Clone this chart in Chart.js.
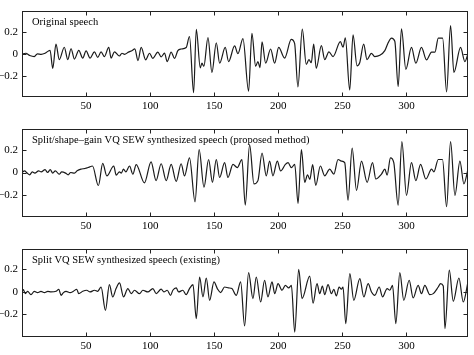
<!DOCTYPE html>
<html><head><meta charset="utf-8">
<script src="https://cdn.jsdelivr.net/npm/chart.js@4"></script>
<style>
html,body{margin:0;padding:0;background:#fff;}
#wrap{position:relative;width:474px;height:355px;overflow:hidden;}
canvas{position:absolute;left:0;}
</style></head><body>
<div id="wrap">
<canvas id="c1" width="474" height="118" style="top:0px;width:474px;height:118px"></canvas>
<canvas id="c2" width="474" height="120" style="top:118px;width:474px;height:120px"></canvas>
<canvas id="c3" width="474" height="117" style="top:238px;width:474px;height:117px"></canvas>
</div>
<script>
const xTicks = [50, 100, 150, 200, 250, 300];
const yTicks = [-0.2, 0, 0.2];
const panelTitles = [
  'Original speech',
  'Split/shape\u2013gain VQ SEW synthesized speech (proposed method)',
  'Split VQ SEW synthesized speech (existing)'
];

// Original speech (sample index, amplitude) at turning points
const origN = [0,3,6,9.6,12,15,18,21.9,24,26.5,29.1,33,35.7,38.3,40.9,44.3,47.4,50,53.1,56.5,
59.1,61.7,64.3,67.7,69.5,72.1,76,78,80,83,86,88,90.5,93,96.5,99.5,102,106,108.6,111.2,
113.3,116.4,119,121.6,124.2,128.1,130.7,133.9,136,139.1,140.4,141.9,145.1,148.2,151.6,154.2,158.6,161.2,165.9,168.5,
172.4,176.8,179.4,182.3,184.1,185.7,187.3,190.1,194,197.1,200.3,204.9,210.1,212.7,215.3,218.7,221.8,223.9,225.7,227.6,
229.6,233.6,236.2,239.5,242.7,248.4,250.5,252.3,255.7,258.3,261.4,263.5,266.6,269.2,272.6,275.2,279.2,283.1,285.7,288.3,
290.9,293.5,296.1,299.5,303.9,307.3,311.7,315.6,319.6,322.2,324.8,328.2,331.3,334.4,337,342.2,345.6,348];
const origV = [0,0.01,-0.01,-0.02,0.005,0,0.01,0.037,-0.128,0.094,-0.048,0.065,-0.048,0.051,-0.043,0.037,-0.034,0.031,-0.034,0.023,
-0.028,0.023,-0.02,0.065,-0.034,0.023,-0.015,0.01,0,0.02,0.035,0.05,-0.057,0.063,-0.05,0.01,-0.037,0.02,-0.023,0.011,
-0.066,0.02,-0.037,0.034,0.049,0.063,0.163,-0.351,0.229,-0.123,-0.08,-0.109,0.154,-0.166,0.106,-0.08,0.063,-0.066,0.077,0.006,
0.143,-0.337,0.191,-0.109,-0.066,-0.123,0.114,-0.08,0.049,-0.08,0.063,-0.034,0.136,0.1,-0.298,0.23,-0.091,-0.048,-0.077,0.094,
-0.128,0.079,-0.048,0.023,-0.02,0.116,0.065,0.15,-0.326,0.179,-0.105,-0.077,0.094,-0.048,0.009,-0.02,-0.009,0.034,0.106,0.149,
0.12,-0.294,0.234,-0.137,0.063,-0.08,0.063,-0.051,0.02,0.02,0.149,0.149,-0.343,0.263,-0.166,0.063,-0.066,0.006];

// Split/shape-gain VQ SEW synthesized speech (proposed)
const propN = [0,2,4,6,8,10,13,15,18,20,22,24,26,29,31,34,36,38,41,43,
46,49,52,55,59.6,63,66.2,71.6,73.5,76,77.5,79.2,81,83.9,86.5,89.1,95.5,100.7,104.6,108.6,
112.5,116.4,120.3,124.2,126.8,130.7,135,138.2,142,145.6,148.6,151.6,154.2,158.1,160.7,164.6,168,171.6,174.2,177.6,
181,184.1,187.3,190.6,193.2,195.8,199.2,201.8,205.5,207.6,210.2,212.8,215.4,218,220.6,222.8,224.6,226.8,229.2,232.8,
236.2,240.1,243.3,246.6,249.2,251.8,254.4,257.6,261,264.9,269.3,273.5,276.1,280.5,283.1,284.9,287.5,290.1,293.5,296.4,
300,303.9,307.3,311,315.1,319.6,321.4,324.8,328.1,331.3,334.4,337.8,341.7,344.8,348];
const propV = [0,0.015,-0.005,-0.02,0.005,-0.005,0.015,0.005,0.025,0,0.025,-0.005,0.015,-0.015,0.005,-0.005,-0.02,0,-0.005,0.015,
0.03,0.035,0.045,0.057,-0.114,0.08,-0.029,0.057,-0.023,0.006,-0.005,0.029,0.005,0.057,-0.014,0.07,-0.09,0.094,-0.071,0.077,
-0.071,0.071,-0.077,0.077,-0.029,0.129,-0.257,0.2,-0.129,0.114,-0.086,0.114,-0.043,0.086,-0.043,0.071,0.043,0.114,-0.286,0.243,
-0.1,-0.071,0.171,-0.029,0.1,-0.029,0.1,0.014,0.071,0.086,0.043,0.071,-0.271,0.2,-0.086,-0.02,-0.06,0.07,-0.114,0.057,
-0.029,0.029,-0.014,0.114,0.1,0.086,-0.243,0.214,-0.157,0.1,-0.086,0.086,-0.057,-0.014,0.029,-0.023,0.129,0.086,-0.286,0.271,
-0.2,0.086,-0.071,0.071,-0.057,0.029,0.006,0.114,0.114,-0.3,0.271,-0.2,0.1,-0.1,0.029];

// Split VQ SEW synthesized speech (existing)
const existN = [0,1,2.6,4.4,7,9.6,12.2,14.8,17.5,20.1,22.7,26.6,28.7,30.5,32.3,34.4,37.5,40.1,42.7,44.3,
47.4,50.5,53.1,56.5,59.1,61.7,65.1,68.2,70.8,73.4,76.1,79.2,82.6,85.2,87.8,91.7,94.3,98.2,102.1,104.7,
108.6,110.7,113.3,115.9,117.7,120.3,122.2,125.5,128.1,130.7,133.4,136,138.6,141.2,143.8,146.4,149.8,152.4,155,158.1,
161.2,163.8,167.2,170.6,173.7,176.8,180.2,182.8,186.2,189.3,191.9,195.1,197.2,199.8,202.9,205.5,208.1,210.2,212.8,215.9,
218.5,224.5,227.1,230.2,232.3,234.4,236.2,238.8,241.4,243.3,245.3,247.4,249.2,250.5,252.6,255.8,258.9,263.6,266.7,270.1,
272.7,275.3,278.7,281.3,284.9,287,289.1,291.7,294.8,297.9,302.1,305.2,309.1,311.7,314.3,318.2,320.9,324.8,326.6,328.7,
330,333.4,336.5,340.9,344.3,348];
const existV = [0,0.02,-0.015,0.006,-0.024,0.006,-0.006,0.006,-0.006,0.006,0,0.006,0.024,-0.03,-0.006,0.006,-0.006,0.006,0.024,-0.015,
0.006,0.015,0,0.015,0.006,0.044,-0.163,0.065,-0.044,0.03,0.08,-0.044,0.03,-0.015,0.015,-0.015,0.015,0,0.03,-0.015,
0.025,0,0.015,-0.03,0.015,0.036,0,0.015,-0.024,0.03,0.065,-0.237,0.133,-0.044,0.124,-0.074,0.089,0.03,-0.006,0.044,
0.036,0.03,-0.03,0.089,-0.302,0.172,-0.059,0.133,-0.089,0.104,-0.044,0.089,-0.015,0.074,0.015,0.059,0.036,0.059,-0.356,0.2,
-0.059,0.14,-0.1,0.074,-0.015,0.053,-0.024,0.065,-0.015,0.024,-0.036,0.044,0.024,0.044,-0.281,0.163,-0.074,0.119,-0.044,0.074,
0,-0.03,0.044,-0.044,0.03,0.015,0.059,-0.281,0.172,-0.074,0.104,-0.053,0.059,-0.015,0.059,-0.024,-0.015,0.044,0.074,0.053,
-0.326,0.193,-0.083,0.124,-0.089,0.089];

const FONT = '"Liberation Serif", "Times New Roman", serif';

function makePanel(id, n, v, title, padTop, axisH, yMin, yMax) {
  const framePlugin = {
    id: 'frame_' + id,
    afterDraw(chart) {
      const {ctx, chartArea: a, scales: {x, y}} = chart;
      ctx.save();
      ctx.strokeStyle = '#222';
      ctx.lineWidth = 1;
      const L = Math.round(a.left) + 0.5, R = Math.round(a.right) - 0.5;
      const T = Math.round(a.top) + 0.5, B = Math.round(a.bottom) - 0.5;
      ctx.strokeRect(L, T, R - L, B - T);
      ctx.beginPath();
      xTicks.forEach(t => {
        const px = Math.round(x.getPixelForValue(t)) + 0.5;
        ctx.moveTo(px, B); ctx.lineTo(px, B - 4);
        ctx.moveTo(px, T); ctx.lineTo(px, T + 4);
      });
      yTicks.forEach(t => {
        const py = Math.round(y.getPixelForValue(t)) + 0.5;
        ctx.moveTo(L, py); ctx.lineTo(L + 4, py);
        ctx.moveTo(R, py); ctx.lineTo(R - 4, py);
      });
      ctx.stroke();
      ctx.fillStyle = '#000';
      ctx.font = '10.5px ' + FONT;
      ctx.textBaseline = 'middle';
      ctx.textAlign = 'left';
      ctx.fillText(title, a.left + 10, a.top + 12);
      ctx.restore();
    }
  };
  return new Chart(document.getElementById(id), {
    type: 'line',
    data: {
      datasets: [{
        data: n.map((s, i) => ({x: s, y: v[i]})),
        borderColor: '#1a1a1a',
        borderWidth: 1.2,
        pointRadius: 0,
        fill: false,
        cubicInterpolationMode: 'monotone'
      }]
    },
    options: {
      responsive: false,
      animation: false,
      devicePixelRatio: 1,
      layout: {padding: {top: padTop, right: 6, left: 0, bottom: 0}},
      plugins: {legend: {display: false}, tooltip: {enabled: false}, title: {display: false}},
      scales: {
        x: {
          type: 'linear', min: 0, max: 348,
          grid: {display: false, drawTicks: false},
          border: {display: false},
          afterBuildTicks: s => { s.ticks = xTicks.map(t => ({value: t})); },
          afterFit: s => { s.height = axisH; },
          ticks: {padding: 3, color: '#000', font: {family: FONT, size: 11}, maxRotation: 0, autoSkip: false,
                  callback: val => String(val)}
        },
        y: {
          type: 'linear', min: yMin, max: yMax,
          grid: {display: false, drawTicks: false},
          border: {display: false},
          afterBuildTicks: s => { s.ticks = yTicks.map(t => ({value: t})); },
          afterFit: s => { s.width = 22; },
          ticks: {padding: 4, color: '#000', font: {family: FONT, size: 11},
                  callback: val => (val === 0 ? '0' : (val < 0 ? '\u2212' : '') + Math.abs(val).toFixed(1))}
        }
      }
    },
    plugins: [framePlugin]
  });
}

makePanel('c1', origN, origV, panelTitles[0], 4, 21, -0.39, 0.40);
makePanel('c2', propN, propV, panelTitles[1], 9, 21, -0.39, 0.385);
makePanel('c3', existN, existV, panelTitles[2], 10, 18, -0.40, 0.385);
</script>
</body></html>
